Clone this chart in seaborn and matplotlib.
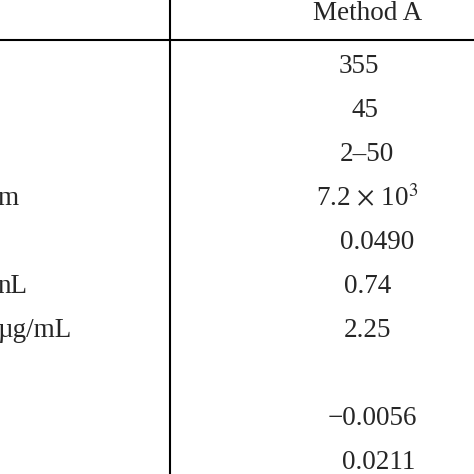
import matplotlib
matplotlib.use("Agg")
import matplotlib.pyplot as plt
import seaborn as sns

header = "Method A"
values = ["355", "45", "2\u201350", r"7.2 $\times$ 10$^{3}$", "0.0490", "0.74", "2.25", "", "\u22120.0056", "0.0211"]
left_labels = ["", "", "", "m", "", "nL", "\u00b5g/mL", "", "", ""]
value_centers = [359, 365, 367, 367, 377, 368, 368, 368, 372, 379]

sns.set_style("white")
plt.rcParams["font.family"] = ["Liberation Serif", "DejaVu Serif"]
plt.rcParams["mathtext.fontset"] = "stix"

fig = plt.figure(figsize=(4.74, 4.74), dpi=100)
ax = fig.add_axes([0, 0, 1, 1])
ax.set_xlim(0, 474)
ax.set_ylim(474, 0)
ax.axis("off")

# table rules (the reference is a crop, so left labels are cut at the edge)
ax.axhline(40, color="black", lw=1.5)
ax.axvline(170, color="black", lw=1.5)

ax.text(368, 13, header, ha="center", va="center", fontsize=19.5)

for i, (val, lab, xc) in enumerate(zip(values, left_labels, value_centers)):
    y = 66 + 44.1 * i
    if val:
        ax.text(xc, y, val, ha="center", va="center", fontsize=19.5)
    if lab:
        ax.text(-3, y, lab, ha="left", va="center", fontsize=19.5)

fig.savefig("out.png", dpi=100, facecolor="white")
